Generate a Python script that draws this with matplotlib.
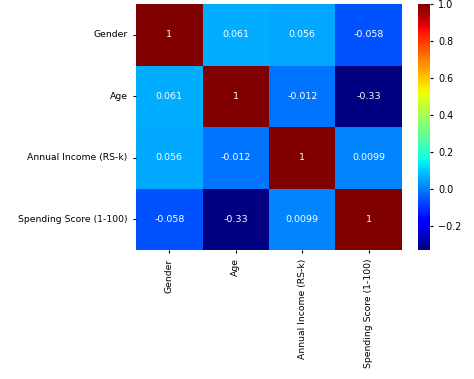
import numpy as np
import pandas as pd
import matplotlib
matplotlib.use("Agg")
import matplotlib.pyplot as plt
import seaborn as sns

# Correlation values
labels = ["Gender", "Age", "Annual Income (RS-k)", "Spending Score (1-100)"]
gender = [1, 0.061, 0.056, -0.058]
age = [0.061, 1, -0.012, -0.33]
income = [0.056, -0.012, 1, 0.0099]
spending = [-0.058, -0.33, 0.0099, 1]

corr = pd.DataFrame([gender, age, income, spending], index=labels, columns=labels)

fig = plt.figure(figsize=(4.74, 3.79), dpi=100)
ax = fig.add_axes([0.287, 0.340, 0.561, 0.649])
cax = fig.add_axes([0.882, 0.340, 0.025, 0.649])

sns.heatmap(corr, annot=True, cmap="jet", ax=ax, cbar_ax=cax,
            annot_kws={"fontsize": 6.8})

ax.tick_params(labelsize=6.7, length=2.5)
cax.tick_params(labelsize=6.9, length=2.5)
plt.setp(ax.get_xticklabels(), rotation=90)
plt.setp(ax.get_yticklabels(), rotation=0)

fig.savefig("out.png", dpi=100)
